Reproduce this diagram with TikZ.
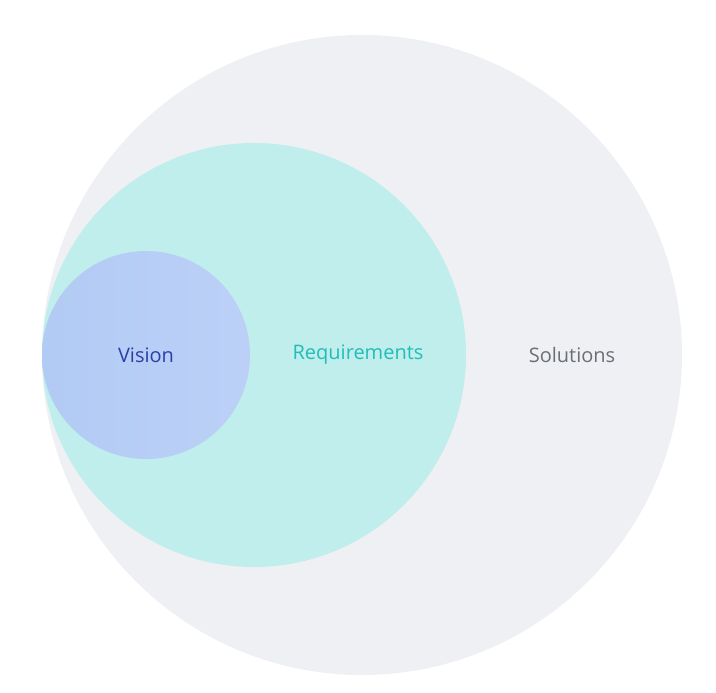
\documentclass[tikz,border=0pt]{standalone}
\usepackage{fontspec}
\setmainfont{Open Sans}
\usetikzlibrary{positioning}
\definecolor{solfill}{HTML}{EEF0F3}
\definecolor{reqfill}{HTML}{BFEEEC}
\definecolor{visfill}{HTML}{BCD0F7}
\definecolor{visleft}{HTML}{B2CBF4}
\definecolor{soltext}{HTML}{6B6F76}
\definecolor{reqtext}{HTML}{22BDB6}
\definecolor{vistext}{HTML}{2C3FA6}
\tikzset{
  label/.style={font=\fontsize{20}{24}\selectfont,inner sep=0pt}
}
\begin{document}
\begin{tikzpicture}[x=1pt,y=-1pt]
  \useasboundingbox (0,0) rectangle (716,693);
  % circles
  \fill [solfill] (362,355) circle (320);
  \fill [reqfill] (254,355) circle (212);
  \shade [left color=visleft,right color=visfill]
    (146,355) circle (104);
  % labels
  \node [label,text=vistext] (vision) at (146,355) {Vision};
  \node [label,text=reqtext] (requirements) at (358,355) {Requirements};
  \node [label,text=soltext] (solutions) at (572,355) {Solutions};
\end{tikzpicture}
\end{document}
